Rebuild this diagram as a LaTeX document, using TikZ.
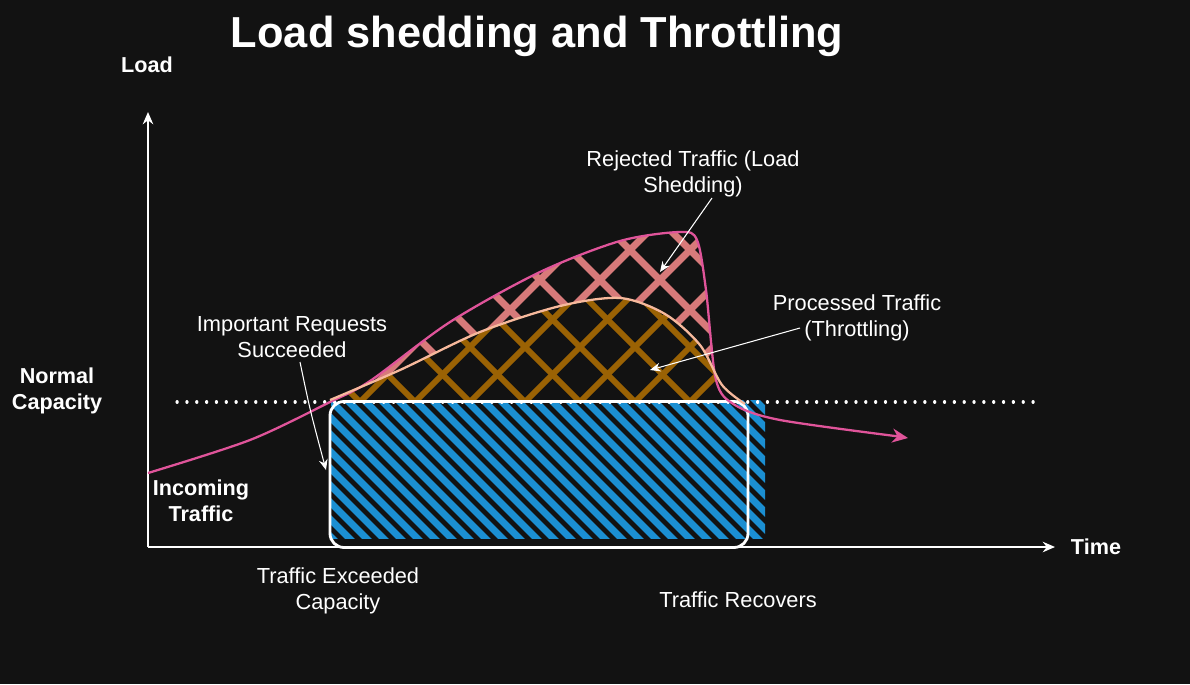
\documentclass[tikz,border=0pt]{standalone}
\usepackage{fontspec}
\setmainfont{Liberation Sans}
\usetikzlibrary{arrows.meta}
\definecolor{bg}{HTML}{121212}
\definecolor{pinkc}{HTML}{E0549A}
\definecolor{salm}{HTML}{F7B99C}
\definecolor{rej}{HTML}{D77A7A}
\definecolor{brn}{HTML}{9A6204}
\definecolor{blu}{HTML}{1B8FD2}
\begin{document}
\begin{tikzpicture}[x=0.02cm,y=-0.02cm,
  lbl/.style={text=white,font=\fontsize{12.4}{15}\selectfont,align=center},
  blbl/.style={lbl,font=\fontsize{12.3}{15}\selectfont\bfseries},
  ptr/.style={white,line width=0.6pt,-{Stealth[length=6pt,width=5pt]}},
  axis/.style={white,line width=0.9pt,-{Stealth[length=7pt,width=6pt]}}]
\fill[bg] (0,0) rectangle (1190,684);
\useasboundingbox (0,0) rectangle (1190,684);
\def\pinkpts{(148,473) (250,440) (330,402) (370,381) (450,322) (540,272) (620,241) (680,232) (697,240) (706,290) (716,380) (735,405) (780,420) (895,436)}
\def\salmpts{(330,400) (400,370) (480,332) (560,306) (620,298) (665,314) (700,345) (722,385) (745,404)}
% rejected hatch
\begin{scope}
\clip plot[smooth] coordinates {(340,397) (370,381) (450,322) (540,272) (620,241) (680,232) (697,240) (706,290) (716,380)} -- plot[smooth] coordinates {(722,385) (700,345) (665,314) (620,298) (560,306) (480,332) (400,370) (340,397)} -- cycle;
\foreach \i in {300,360,...,800}{\draw[rej,line width=4pt] (\i,400)--(\i+180,220); \draw[rej,line width=4pt] (\i,220)--(\i+180,400);}
\end{scope}
% processed hatch
\begin{scope}
\clip plot[smooth] coordinates {\salmpts} -- (745,402) -- (330,402) -- cycle;
\foreach \i in {250,305,...,800}{\draw[brn,line width=3.3pt] (\i,402)--(\i+110,292); \draw[brn,line width=3.3pt] (\i,292)--(\i+110,402);}
\end{scope}
% blue hatch
\begin{scope}
\clip (331,400) rectangle (765,538);
\foreach \i in {-200,-183,...,800}{\draw[blu,line width=4pt] (\i,380)--(\i+200,580);}
\end{scope}
\node[draw=white,line width=1.6pt,rounded corners=8pt,minimum width=418*0.02cm,minimum height=146*0.02cm,inner sep=0] (box) at (539,474.5) {};
% dotted
\draw[white,line width=1.8pt,line cap=round,dash pattern=on 0.1pt off 5.5pt] (177,402)--(1040,402);
% axes
\coordinate (O) at (148,547);
\coordinate (ytop) at (148,112);
\coordinate (xend) at (1055,547);
\draw[axis] (O)--(ytop);
\draw[axis] (O)--(xend);
% curves
\draw[pinkc,line width=1.3pt,-{Stealth[length=9pt,width=8pt]}] plot[smooth] coordinates {\pinkpts} -- (908,438);
\draw[salm,line width=1.3pt] plot[smooth] coordinates {\salmpts};
% texts
\node[text=white,font=\fontsize{24.7}{29}\selectfont\bfseries] (title) at (537,36) {Load shedding and Throttling};
\node[blbl] (load) at (147,65) {Load};
\node[blbl] (time) at (1096,547) {Time};
\node[blbl] (nc) at (57,391) {Normal\\Capacity};
\node[blbl] (inc) at (201,501) {Incoming\\Traffic};
\node[lbl] (rej) at (693,174) {Rejected Traffic (Load\\Shedding)};
\node[lbl] (proc) at (857,318) {Processed Traffic\\(Throttling)};
\node[lbl] (imp) at (292,337) {Important Requests\\Succeeded};
\node[lbl] (exc) at (338,591) {Traffic Exceeded\\Capacity};
\node[lbl] (rec) at (738,600) {Traffic Recovers};
\coordinate (rejend) at (660,272);
\coordinate (procend) at (650,370);
\coordinate (impend) at (326,470);
\draw[ptr] (712,198) -- (rejend);
\draw[ptr] (800,328) -- (procend);
\draw[ptr] (300,362) .. controls (310,410) .. (impend);
\end{tikzpicture}
\end{document}
